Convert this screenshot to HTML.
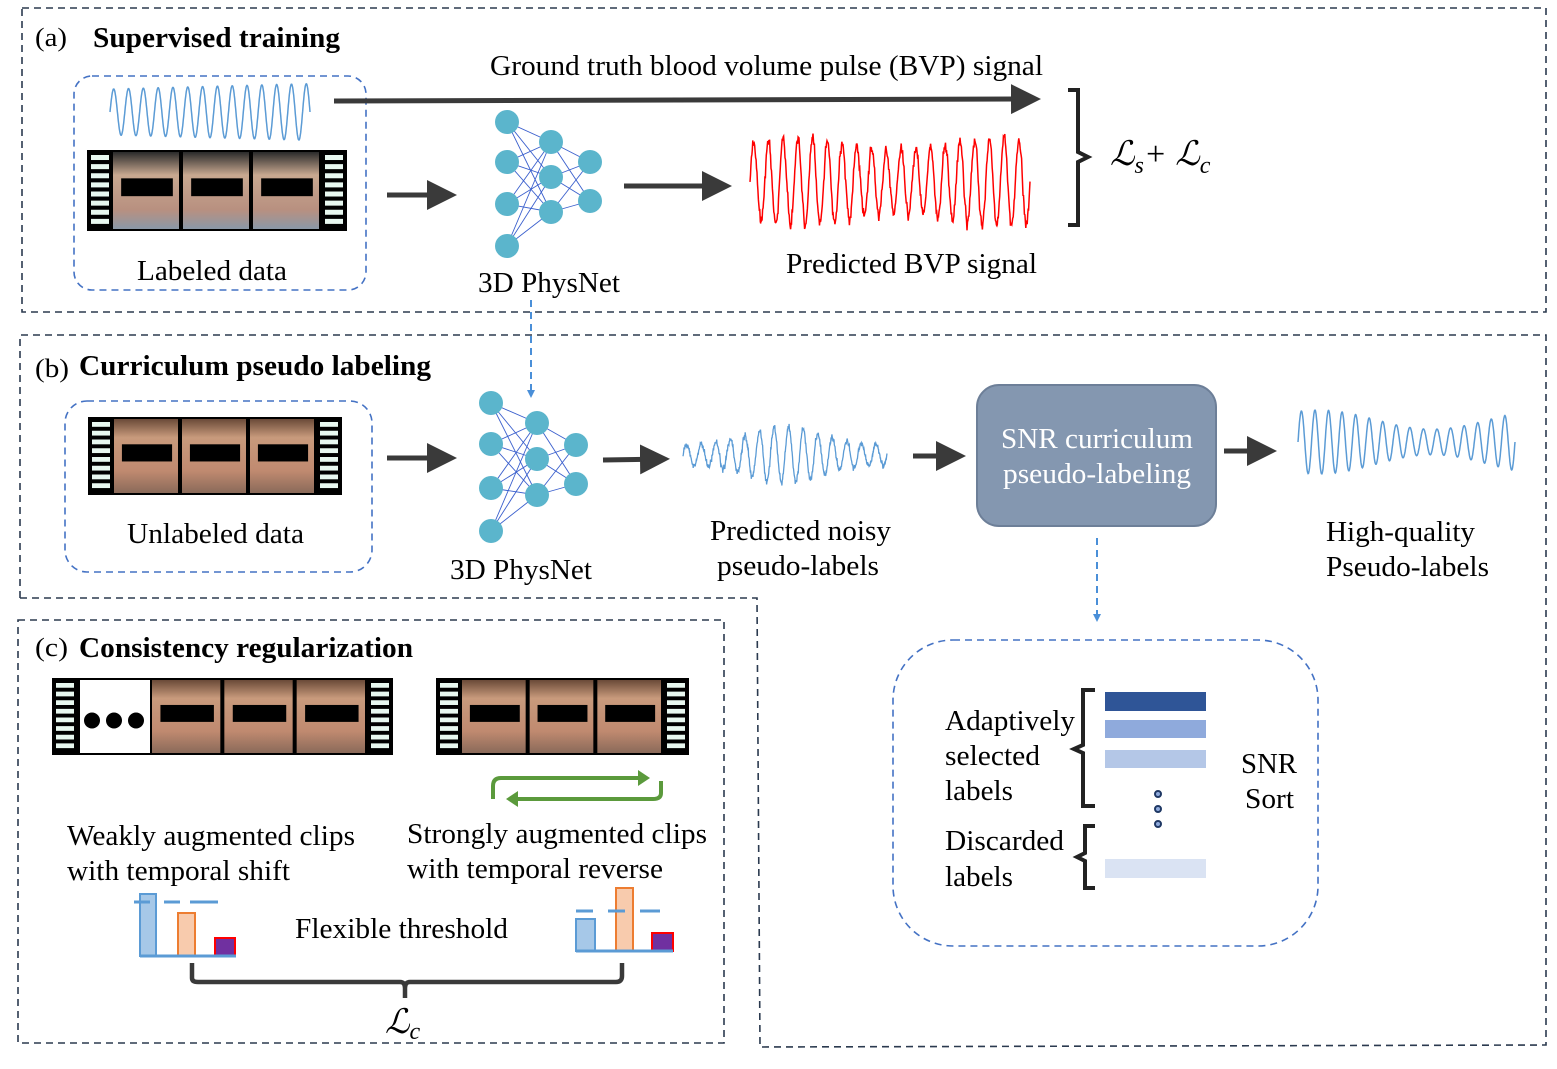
<!DOCTYPE html>
<html><head><meta charset="utf-8">
<style>
html,body{margin:0;padding:0;background:#fff;}
svg{display:block;}
text{font-family:"Liberation Serif",serif;fill:#000;}
</style></head>
<body>
<svg id="s" width="1557" height="1069" viewBox="0 0 1557 1069" xmlns="http://www.w3.org/2000/svg">
<defs>
<marker id="ah" markerWidth="6" markerHeight="6" refX="5" refY="3" orient="auto" markerUnits="strokeWidth">
<path d="M0,0 L6,3 L0,6 z" fill="#3a3a3a"/></marker>
<marker id="bh" markerWidth="8" markerHeight="8" refX="6" refY="4" orient="auto" markerUnits="userSpaceOnUse">
<path d="M0,0 L8,4 L0,8 z" fill="#4a8fd8"/></marker>
<linearGradient id="face" x1="0" y1="0" x2="0" y2="1">
<stop offset="0" stop-color="#6a4a38"/><stop offset="0.25" stop-color="#c89a7c"/><stop offset="0.7" stop-color="#c08a70"/><stop offset="1" stop-color="#8a6a5a"/></linearGradient>
<linearGradient id="face2" x1="0" y1="0" x2="0" y2="1">
<stop offset="0" stop-color="#2a2a2a"/><stop offset="0.3" stop-color="#c8a890"/><stop offset="0.75" stop-color="#b89080"/><stop offset="1" stop-color="#8a98a8"/></linearGradient>
</defs>

<g fill="none" stroke="#2b3a4f" stroke-width="1.6" stroke-dasharray="7,5">
<rect x="22" y="8" width="1524" height="304"/>
<path d="M20,598 L20,335 L1546,335 L1546,1045 L760,1047 L757,598 L20,598"/>
<rect x="18" y="620" width="706" height="423"/>
</g>
<g fill="none" stroke="#4472c4" stroke-width="1.6" stroke-dasharray="7,5">
<rect x="74" y="76" width="292" height="214" rx="18"/>
<rect x="65" y="401" width="307" height="171" rx="22"/>
<rect x="893" y="640" width="425" height="306" rx="60"/>
</g>

<g lengthAdjust="spacingAndGlyphs">
<text x="35" y="46" font-size="26" textLength="32" lengthAdjust="spacingAndGlyphs">(a)</text>
<text x="93" y="47" font-size="28" font-weight="bold" textLength="247" lengthAdjust="spacingAndGlyphs">Supervised training</text>
<text x="35" y="377" font-size="26" textLength="34" lengthAdjust="spacingAndGlyphs">(b)</text>
<text x="79" y="375" font-size="28" font-weight="bold" textLength="352" lengthAdjust="spacingAndGlyphs">Curriculum pseudo labeling</text>
<text x="35" y="656" font-size="26" textLength="33" lengthAdjust="spacingAndGlyphs">(c)</text>
<text x="79" y="657" font-size="28" font-weight="bold" textLength="334" lengthAdjust="spacingAndGlyphs">Consistency regularization</text>
</g>

<g id="films"></g>
<g id="nets"></g>
<g id="waves"></g>

<g stroke="#3a3a3a" stroke-width="5" fill="none">
<line x1="334" y1="101" x2="1036" y2="99" marker-end="url(#ah)"/>
<line x1="387" y1="195" x2="452" y2="195" marker-end="url(#ah)"/>
<line x1="624" y1="186" x2="727" y2="186" marker-end="url(#ah)"/>
<line x1="387" y1="458" x2="452" y2="458" marker-end="url(#ah)"/>
<line x1="603" y1="460" x2="665" y2="459" marker-end="url(#ah)"/>
<line x1="913" y1="456" x2="961" y2="456" marker-end="url(#ah)"/>
<line x1="1224" y1="451" x2="1272" y2="451" marker-end="url(#ah)"/>
</g>
<text x="490" y="75" font-size="28" textLength="553" lengthAdjust="spacingAndGlyphs">Ground truth blood volume pulse (BVP) signal</text>
<text x="137" y="280" font-size="28" textLength="150" lengthAdjust="spacingAndGlyphs">Labeled data</text>
<text x="478" y="292" font-size="28" textLength="142" lengthAdjust="spacingAndGlyphs">3D PhysNet</text>
<text x="786" y="273" font-size="28" textLength="251" lengthAdjust="spacingAndGlyphs">Predicted BVP signal</text>
<path d="M1068,90 L1078,90 L1078,152 L1088,157 L1078,162 L1078,225 L1068,225" fill="none" stroke="#222" stroke-width="4"/>
<text x="1110" y="165" font-size="34" font-style="italic">ℒ<tspan font-size="24" dy="8">s</tspan><tspan dy="-8">+ ℒ</tspan><tspan font-size="24" dy="8">c</tspan></text>

<line x1="531" y1="300" x2="531" y2="396" stroke="#4a8fd8" stroke-width="2" stroke-dasharray="7,5" marker-end="url(#bh)"/>
<line x1="1097" y1="538" x2="1097" y2="620" stroke="#4a8fd8" stroke-width="2" stroke-dasharray="7,5" marker-end="url(#bh)"/>

<text x="127" y="543" font-size="28" textLength="177" lengthAdjust="spacingAndGlyphs">Unlabeled data</text>
<text x="450" y="579" font-size="28" textLength="142" lengthAdjust="spacingAndGlyphs">3D PhysNet</text>
<text x="710" y="540" font-size="28" textLength="181" lengthAdjust="spacingAndGlyphs">Predicted noisy</text>
<text x="717" y="575" font-size="28" textLength="162" lengthAdjust="spacingAndGlyphs">pseudo-labels</text>
<rect x="977" y="385" width="239" height="141" rx="22" fill="#8497b0" stroke="#6d7f98" stroke-width="2"/>
<text x="1001" y="448" font-size="28" style="fill:#fff" textLength="192" lengthAdjust="spacingAndGlyphs">SNR curriculum</text>
<text x="1003" y="483" font-size="28" style="fill:#fff" textLength="188" lengthAdjust="spacingAndGlyphs">pseudo-labeling</text>
<text x="1326" y="541" font-size="28" textLength="149" lengthAdjust="spacingAndGlyphs">High-quality</text>
<text x="1326" y="576" font-size="28" textLength="163" lengthAdjust="spacingAndGlyphs">Pseudo-labels</text>

<text x="945" y="730" font-size="28" textLength="130" lengthAdjust="spacingAndGlyphs">Adaptively</text>
<text x="945" y="765" font-size="28" textLength="95" lengthAdjust="spacingAndGlyphs">selected</text>
<text x="945" y="800" font-size="28" textLength="68" lengthAdjust="spacingAndGlyphs">labels</text>
<text x="945" y="850" font-size="28" textLength="119" lengthAdjust="spacingAndGlyphs">Discarded</text>
<text x="945" y="886" font-size="28" textLength="68" lengthAdjust="spacingAndGlyphs">labels</text>
<text x="1241" y="773" font-size="28" textLength="56" lengthAdjust="spacingAndGlyphs">SNR</text>
<text x="1245" y="808" font-size="28" textLength="49" lengthAdjust="spacingAndGlyphs">Sort</text>
<path d="M1095,690 L1083,690 L1083,745 L1074,749 L1083,753 L1083,806 L1095,806" fill="none" stroke="#222" stroke-width="4"/>
<path d="M1095,826 L1085,826 L1085,853 L1077,857 L1085,861 L1085,888 L1095,888" fill="none" stroke="#222" stroke-width="4"/>
<rect x="1105" y="692" width="101" height="19" fill="#2f5597"/>
<rect x="1105" y="720" width="101" height="18" fill="#8faadc"/>
<rect x="1105" y="750" width="101" height="18" fill="#b4c7e7"/>
<rect x="1105" y="859" width="101" height="19" fill="#dae3f3"/>
<g fill="#8faadc" stroke="#1f3864" stroke-width="2">
<circle cx="1158" cy="794" r="3"/><circle cx="1158" cy="809" r="3"/><circle cx="1158" cy="824" r="3"/></g>

<g fill="none" stroke="#5b9a3c" stroke-width="4">
<path d="M493,799 L493,786 Q493,778 501,778 L640,778"/>
<path d="M661,781 L661,793 Q661,799 653,799 L516,799"/>
</g>
<path d="M638,770 L650,778 L638,786 z" fill="#5b9a3c"/>
<path d="M518,791 L506,799 L518,807 z" fill="#5b9a3c"/>
<text x="67" y="845" font-size="28" textLength="288" lengthAdjust="spacingAndGlyphs">Weakly augmented clips</text>
<text x="67" y="880" font-size="28" textLength="223" lengthAdjust="spacingAndGlyphs">with temporal shift</text>
<text x="407" y="843" font-size="28" textLength="300" lengthAdjust="spacingAndGlyphs">Strongly augmented clips</text>
<text x="407" y="878" font-size="28" textLength="256" lengthAdjust="spacingAndGlyphs">with temporal reverse</text>
<text x="295" y="938" font-size="28" textLength="213" lengthAdjust="spacingAndGlyphs">Flexible threshold</text>

<rect x="140" y="894" width="16" height="62" fill="#a6c8e8" stroke="#5b9bd5" stroke-width="2"/>
<rect x="178" y="913" width="17" height="43" fill="#f8cbad" stroke="#ed7d31" stroke-width="2"/>
<rect x="215" y="938" width="20" height="18" fill="#7030a0" stroke="#ff0000" stroke-width="2"/>
<line x1="140" y1="956" x2="236" y2="956" stroke="#5b9bd5" stroke-width="3"/>
<g stroke="#5b9bd5" stroke-width="3"><line x1="134" y1="902" x2="150" y2="902"/><line x1="164" y1="902" x2="180" y2="902"/><line x1="190" y1="902" x2="218" y2="902"/></g>
<rect x="576" y="919" width="19" height="32" fill="#a6c8e8" stroke="#5b9bd5" stroke-width="2"/>
<rect x="616" y="888" width="17" height="63" fill="#f8cbad" stroke="#ed7d31" stroke-width="2"/>
<rect x="652" y="933" width="21" height="18" fill="#7030a0" stroke="#ff0000" stroke-width="2"/>
<line x1="576" y1="951" x2="673" y2="951" stroke="#5b9bd5" stroke-width="3"/>
<g stroke="#5b9bd5" stroke-width="3"><line x1="576" y1="911" x2="593" y2="911"/><line x1="608" y1="911" x2="625" y2="911"/><line x1="640" y1="911" x2="660" y2="911"/></g>
<path d="M192,963 L192,978 Q192,982 198,982 L400,982 Q405,982 405,988 L405,998 M405,988 Q405,982 410,982 L616,982 Q622,982 622,976 L622,963" fill="none" stroke="#3a3a3a" stroke-width="4.5"/>
<text x="385" y="1033" font-size="34" font-style="italic">ℒ<tspan font-size="24" dy="6">c</tspan></text>
</svg>
<script>
var NS="http://www.w3.org/2000/svg";
function el(p,t,a){var e=document.createElementNS(NS,t);for(var k in a)e.setAttribute(k,a[k]);p.appendChild(e);return e;}
var F=document.getElementById('films');
function film(x,y,w,h,nf,dots,grad){
 el(F,'rect',{x:x,y:y,width:w,height:h,fill:'#000'});
 var sw=26;
 for(var side=0;side<2;side++){
  var sx=side?x+w-sw:x; var n=8;
  for(var i=0;i<n;i++){el(F,'rect',{x:sx+4,y:y+5+i*(h-8)/n,width:sw-8,height:(h-8)/n*0.55,fill:'#e8f8f0'});}
 }
 var ix=x+sw, iw=w-2*sw, fx=ix, fw;
 if(dots){ el(F,'rect',{x:ix+2,y:y+2,width:70,height:h-4,fill:'#fff'});
  for(var d=0;d<3;d++) el(F,'circle',{cx:ix+14+d*22,cy:y+h/2+4,r:8,fill:'#000'});
  fx=ix+74; iw=iw-74;}
 fw=(iw-4)/nf;
 for(var j=0;j<nf;j++){
  var X=fx+j*(fw+2);
  el(F,'rect',{x:X,y:y+2,width:fw-2,height:h-4,fill:'url(#'+grad+')'});
  el(F,'rect',{x:X+fw*0.12,y:y+h*0.35,width:fw*0.76,height:h*0.22,fill:'#000'});
 }
}
film(87,150,260,81,3,false,'face2');
film(88,417,254,78,3,false,'face');
film(52,678,341,77,3,true,'face');
film(436,678,253,77,3,false,'face');

var N=document.getElementById('nets');
function net(L){
 for(var a=0;a<L.length-1;a++)for(var i=0;i<L[a][1].length;i++)for(var j=0;j<L[a+1][1].length;j++)
  el(N,'line',{x1:L[a][0],y1:L[a][1][i],x2:L[a+1][0],y2:L[a+1][1][j],stroke:'#3a5fcd','stroke-width':0.9});
 L.forEach(function(l){l[1].forEach(function(yy){el(N,'circle',{cx:l[0],cy:yy,r:12,fill:'#5bb5cc'});});});
}
net([[507,[122,162,204,246]],[551,[142,177,212]],[590,[162,201]]]);
net([[491,[403,444,488,531]],[537,[423,459,495]],[576,[445,484]]]);

var W=document.getElementById('waves');
function wave(x0,x1,yc,amp,cycles,noise,col,sw,seed){
 var pts=[],n=600,s=seed;
 function r(){s=(s*9301+49297)%233280;return s/233280-0.5;}
 for(var i=0;i<=n;i++){var t=i/n;var x=x0+(x1-x0)*t;
  var v=Math.sin(t*cycles*2*Math.PI);
  var a=amp*(noise.env?noise.env(t):1);
  var y=yc-v*a+noise.n*r()*(i%3==0?1:0.3);
  pts.push(x.toFixed(1)+','+y.toFixed(1));}
 el(W,'polyline',{points:pts.join(' '),fill:'none',stroke:col,'stroke-width':sw});
}
wave(110,310,112,27,13.5,{n:0,env:function(t){return 0.85+0.2*t;}},'#5b9bd5',1.5,3);
wave(750,1030,182,42,19,{n:14,env:function(t){return 0.9+0.15*Math.sin(t*9);}},'#ff0000',1.5,7);
wave(683,887,455,20,14,{n:8,env:function(t){return 0.5+0.9*Math.exp(-Math.pow((t-0.5)*4,2));}},'#5b9bd5',1.3,11);
wave(1298,1515,442,32,16,{n:0,env:function(t){return 0.7+0.3*Math.sin(t*6+1);}},'#5b9bd5',1.5,5);
</script>
</body></html>
